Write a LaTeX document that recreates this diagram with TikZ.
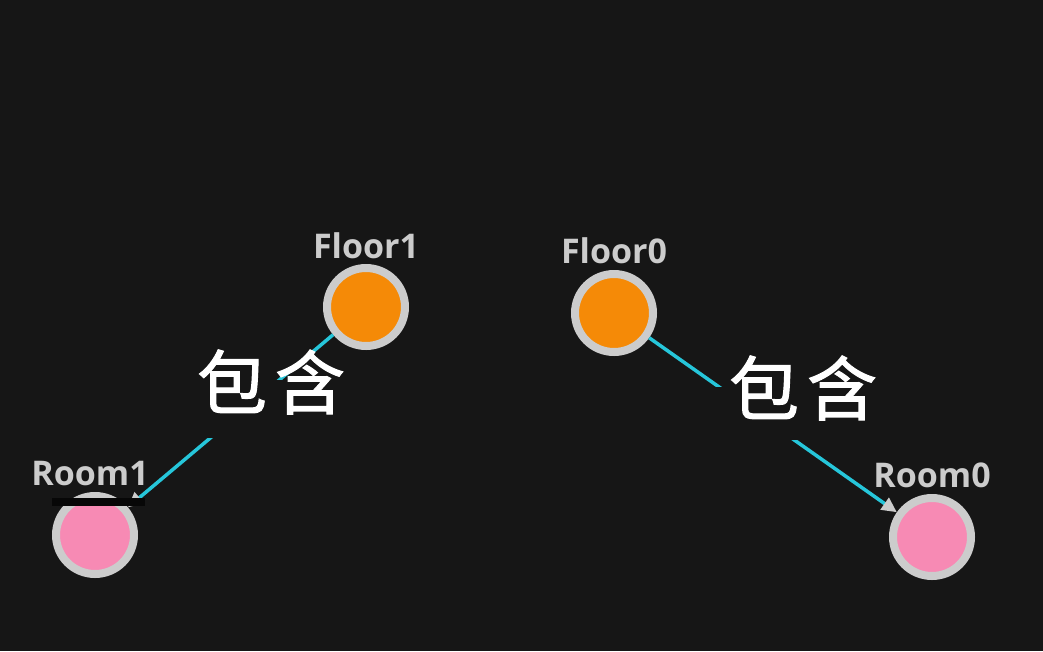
\documentclass[tikz,border=0pt]{standalone}
\usepackage{fontspec}
\newfontfamily\labfont{Open Sans}
\newfontfamily\cjkfont{Noto Sans CJK SC}[FakeBold=1.5]
\usetikzlibrary{arrows.meta}
\definecolor{bgc}{HTML}{161616}
\definecolor{ringc}{HTML}{CCCCCC}
\definecolor{floorc}{HTML}{F58A07}
\definecolor{roomc}{HTML}{F78AB4}
\definecolor{edgec}{HTML}{26C6DA}
\definecolor{labc}{HTML}{CCCCCC}
\tikzset{
  vert/.style={circle, draw=ringc, line width=8pt, minimum size=78pt, inner sep=0pt, outer sep=4pt},
  floornode/.style={vert, fill=floorc},
  roomnode/.style={vert, fill=roomc},
  rel/.style={draw=edgec, line width=3.5pt, -{Triangle[length=15pt,width=14pt,color=ringc]}},
  vlabel/.style={anchor=base, text=labc, font=\labfont\bfseries\fontsize{34}{40}\selectfont, inner sep=0pt},
  elabel/.style={text=white, font=\cjkfont\fontsize{70}{80}\selectfont, inner sep=0pt},
  maskbox/.style={fill=bgc, draw=none},
}
\begin{document}
\begin{tikzpicture}[x=1pt,y=-1pt]
\fill[bgc] (0,0) rectangle (1043,651);
\useasboundingbox (0,0) rectangle (1043,651);
\node[floornode] (f1) at (366,307) {};
\node[floornode] (f0) at (614,313) {};
\node[roomnode] (r1) at (95,535) {};
\node[roomnode] (r0) at (932,537) {};
\draw[rel] (f1) -- (r1);
\draw[rel] (f0) -- (r0);
\fill[maskbox] (196,380) rectangle (346,438);
\fill[maskbox] (700,387) rectangle (880,440);
\fill[black!70!bgc] (52,498) rectangle (145,506);
\node[elabel] (e1) at (271,382) {包\hspace{8pt}含};
\node[elabel] (e0) at (803,388) {包\hspace{8pt}含};
\node[vlabel] (lf1) at (366,258) {Floor1};
\node[vlabel] (lf0) at (614,263) {Floor0};
\node[vlabel] (lr1) at (90,485) {Room1};
\node[vlabel] (lr0) at (932,487) {Room0};
\end{tikzpicture}
\end{document}
